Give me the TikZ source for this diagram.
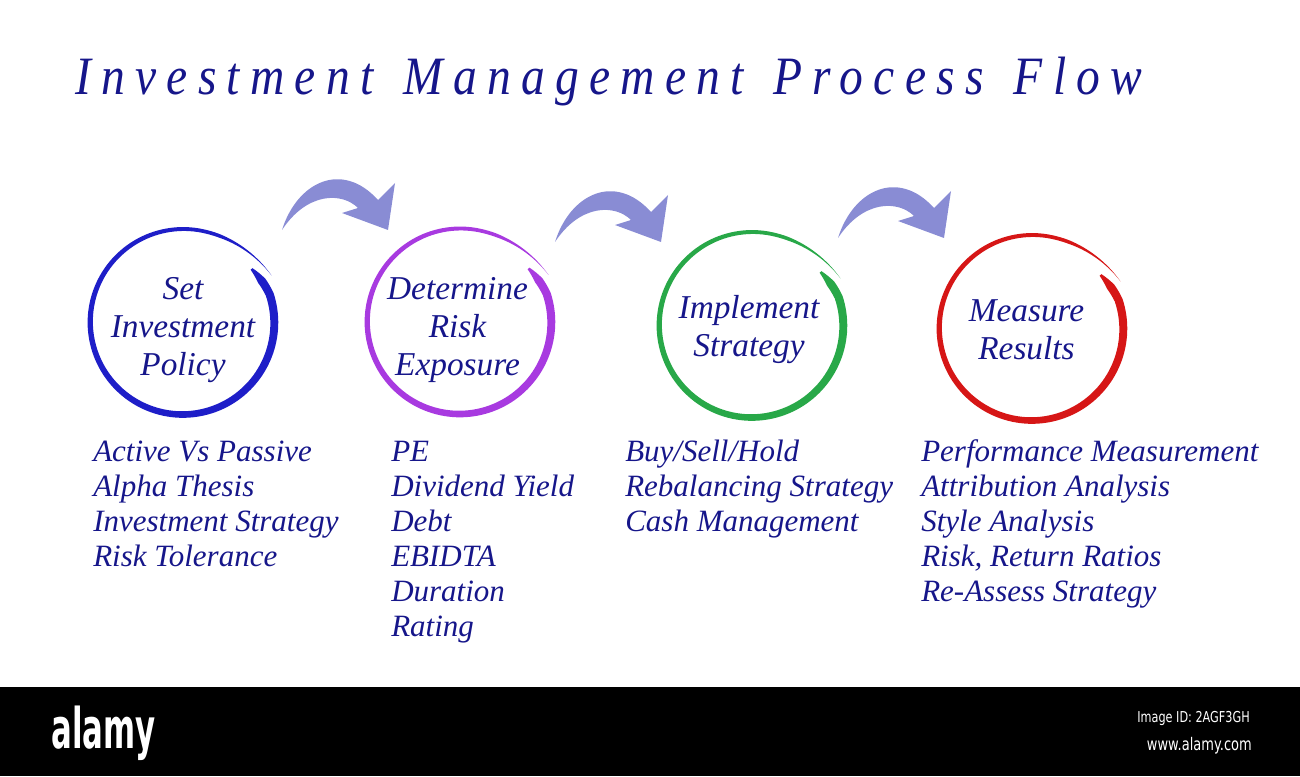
\documentclass[tikz,border=0pt]{standalone}
\usepackage{fontspec}
\setmainfont{Liberation Serif}
\newfontfamily\titlefont[FakeStretch=0.88,LetterSpace=19,WordSpace=1.35]{Liberation Serif}
\newfontfamily\wmfont[FakeStretch=0.75]{DejaVu Sans}
\newfontfamily\logofont[FakeStretch=0.55]{DejaVu Sans}
\usepackage{tikz}
\usetikzlibrary{calc}

\definecolor{navy}{RGB}{22,22,138}
\definecolor{ringblue}{RGB}{30,30,200}
\definecolor{ringpurple}{RGB}{168,58,224}
\definecolor{ringgreen}{RGB}{40,168,72}
\definecolor{ringred}{RGB}{214,22,22}
\definecolor{arrowfill}{RGB}{137,140,212}

\tikzset{
  stage/.style={font=\fontsize{25}{28.5}\selectfont\itshape, text=navy, align=center, inner sep=0},
  itemlist/.style={font=\fontsize{23.25}{26.25}\selectfont\itshape, text=navy, align=left, anchor=north west, inner sep=0},
  pics/ring/.style={code={
    \fill[#1] plot[domain=0:370, samples=149, variable=\s] ({38-\s}:{ringr(\s)+ringw(\s)/2})
      -- plot[domain=370:0, samples=149, variable=\s] ({38-\s}:{ringr(\s)-ringw(\s)/2}) -- cycle;
  }},
  pics/flowarrow/.style={code={
    \fill[arrowfill] (0,0) .. controls (15,48) and (60,70) .. (96,30) -- (113,47) -- (106,0)
      -- (60,17) -- (76,22) .. controls (60,38) and (25,38) .. (0,0) -- cycle;
  }}
}

\begin{document}
\begin{tikzpicture}[x=0.75pt, y=0.75pt,
    declare function={ringr(\s)=91+3*\s/370-4*max(0,1-\s/20)+0.0025*max(\s-320,0)^2;
                      ringw(\s)=(8.5-5.5*\s/370)*min(1,(370-\s)/40)*min(1,(\s+4)/14);}]
    \useasboundingbox (0,0) rectangle (1300,776);

    \node[anchor=base west, inner sep=0, text=navy, font=\titlefont\fontsize{40.5}{48}\selectfont\itshape] (title) at (75,681) {Investment Management Process Flow};

    % stages
    \node[stage] (policy) at (183,446) {Set\\Investment\\Policy};
    \node[stage] (risk) at (457.5,446) {Determine\\Risk\\Exposure};
    \node[stage] (strategy) at (749,446) {Implement\\Strategy};
    \node[stage] (results) at (1026.5,446) {Measure\\Results};

    \foreach \name/\col/\dx/\dy in {policy/ringblue/0/7.5, risk/ringpurple/2.5/8, strategy/ringgreen/3/4.5, results/ringred/5.5/1.5}
        \pic at ($(\name)+(\dx,\dy)$) {ring=\col};

    \pic at ($(policy)+(99,100)$) {flowarrow};
    \pic at ($(risk)+(97.5,88)$) {flowarrow};
    \pic at ($(strategy)+(89,92)$) {flowarrow};

    % lists
    \node[itemlist] (policyitems) at (93,339.5) {\strut Active Vs Passive\\Alpha Thesis\\Investment Strategy\\Risk Tolerance};
    \node[itemlist] (riskitems) at (391,339.5) {\strut PE\\Dividend Yield\\Debt\\EBIDTA\\Duration\\Rating};
    \node[itemlist] (strategyitems) at (625,339.5) {\strut Buy/Sell/Hold\\Rebalancing Strategy\\Cash Management};
    \node[itemlist] (resultsitems) at (921,339.5) {\strut Performance Measurement\\Attribution Analysis\\Style Analysis\\Risk, Return Ratios\\Re-Assess Strategy};

    % bottom bar
    \fill[black] (0,0) rectangle (1300,89);
    \node[anchor=base west, inner sep=0, text=white, font=\logofont\bfseries\fontsize{42}{46}\selectfont] (logo) at (51,28) {alamy};
    \node[anchor=base east, inner sep=0, text=white, font=\wmfont\fontsize{11.25}{13}\selectfont] (imageid) at (1250,54) {Image ID: 2AGF3GH};
    \node[anchor=base east, inner sep=0, text=white, font=\wmfont\fontsize{13}{15}\selectfont] (site) at (1252,26) {www.alamy.com};
\end{tikzpicture}
\end{document}
